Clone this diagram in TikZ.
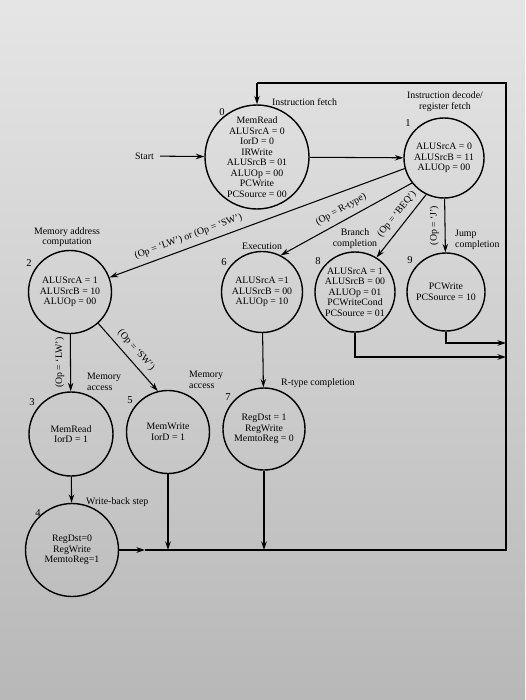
\documentclass[tikz,border=0pt]{standalone}
\usepackage{fontspec}
\setmainfont{Liberation Serif}
\usetikzlibrary{arrows.meta}
\begin{document}
\begin{tikzpicture}
        [>={Stealth[length=1.7mm,width=1.1mm]},
        every node/.style={font=\fontsize{5.6}{6}\selectfont},
        stateNode/.style={circle, draw, line width=0.8pt, align=center, inner sep=-2pt, minimum size=1.62cm},
        stepText/.style={align=center},
        numText/.style={font=\fontsize{6}{7}\selectfont},
        link/.style={semithick}]
                \shade[top color=black!10, bottom color=black!28] (0,0) rectangle (10.5,-14);
                \useasboundingbox (0,0) rectangle (10.5,-14);

                \node[stateNode, minimum size=2.08cm] (s0) at (5.14,-3.14) {MemRead\\ALUSrcA = 0\\IorD = 0\\IRWrite\\ALUSrcB = 01\\ALUOp = 00\\PCWrite\\PCSource = 00};
                \node[stateNode, minimum size=1.6cm] (s1) at (8.88,-3.16) {ALUSrcA = 0\\ALUSrcB = 11\\ALUOp = 00};
                \node[stateNode, minimum size=1.66cm] (s2) at (1.4,-5.84) {ALUSrcA = 1\\ALUSrcB = 10\\ALUOp = 00};
                \node[stateNode] (s6) at (5.24,-5.84) {ALUSrcA =1\\ALUSrcB = 00\\ALUOp = 10};
                \node[stateNode, minimum size=1.6cm] (s8) at (7.1,-5.84) {ALUSrcA = 1\\ALUSrcB = 00\\ALUOp = 01\\PCWriteCond\\PCSource = 01};
                \node[stateNode, minimum size=1.56cm] (s9) at (8.92,-5.84) {PCWrite\\PCSource = 10};
                \node[stateNode, minimum size=1.68cm] (s3) at (1.42,-8.68) {MemRead\\IorD = 1};
                \node[stateNode, minimum size=1.66cm] (s5) at (3.36,-8.64) {MemWrite\\IorD = 1};
                \node[stateNode, minimum size=1.64cm] (s7) at (5.28,-8.58) {RegDst = 1\\RegWrite\\MemtoReg = 0};
                \node[stateNode, minimum size=1.86cm] (s4) at (1.44,-11.0) {RegDst=0\\RegWrite\\MemtoReg=1};

                % state numbers
                \node[numText] (n0) at (4.44,-2.24) {0};
                \node[numText] (n1) at (8.16,-2.46) {1};
                \node[numText] (n2) at (0.58,-5.26) {2};
                \node[numText] (n6) at (4.48,-5.24) {6};
                \node[numText] (n8) at (6.36,-5.22) {8};
                \node[numText] (n9) at (8.2,-5.2) {9};
                \node[numText] (n3) at (0.64,-8.04) {3};
                \node[numText] (n5) at (2.6,-8.0) {5};
                \node[numText] (n7) at (4.56,-7.94) {7};
                \node[numText] (n4) at (0.76,-10.26) {4};

                % step names
                \node[stepText, anchor=west] (fetch) at (5.32,-2.04) {Instruction fetch};
                \node[stepText] (decode) at (8.9,-2.03) {Instruction decode/\\register fetch};
                \node[stepText] (addr) at (1.34,-4.74) {Memory address\\computation};
                \node[stepText] (exec) at (5.24,-4.92) {Execution};
                \node[stepText] (branch) at (7.1,-4.77) {Branch\\completion};
                \node[stepText, anchor=west, align=left] (jump) at (8.98,-4.8) {Jump\\completion};
                \node[stepText, anchor=west, align=left] (memA) at (1.62,-7.64) {Memory\\access};
                \node[stepText, anchor=west, align=left] (memB) at (3.66,-7.6) {Memory\\access};
                \node[stepText, anchor=west] (rdone) at (5.5,-7.66) {R-type completion};
                \node[stepText, anchor=west] (wback) at (1.6,-10.04) {Write-back step};
                \node[anchor=east] (start) at (3.2,-3.12) {Start};

                \coordinate (j4) at (2.9,-11.0);
                \coordinate (j5) at (s5 |- j4);
                \coordinate (j7) at (s7 |- j4);
                \coordinate (br) at (10.12,-11.0);
                \coordinate (tr) at (10.12,-1.66);
                \coordinate (tl) at (s0 |- tr);
                \coordinate (m9) at (10.12,-6.86);
                \coordinate (m8) at (10.12,-7.14);

                \draw[link, ->] (start) -- (s0);
                \draw[link, ->] (s0) -- (s1);
                \draw[link, ->] (s1.195) -- (s2) node[pos=0.72, above, sloped] {(Op = `LW') or (Op = `SW')};
                \draw[link, ->] (s1.218) -- (s6.63) node[midway, above, sloped] {(Op = R-type)};
                \draw[link, ->] (s1.244) -- (s8.58) node[pos=0.42, anchor=south, rotate=51] {(Op = `BEQ')};
                \draw[link, ->] (s1) -- (s9) node[midway, anchor=south, rotate=90] {(Op = `J')};
                \draw[link, ->] (s2) -- (s3) node[midway, anchor=south, rotate=90] {(Op = `LW')};
                \draw[link, ->] (s2.-48) -- (s5.104) node[midway, above, sloped] {(Op = `SW')};
                \draw[link, ->] (s6) -- (s7);
                \draw[link, ->] (s3) -- (s4);

                % back to instruction fetch
                \draw[link, ->] (s4) -- (j4);
                \draw[link, ->] (s5) -- (j5);
                \draw[link, ->] (s7) -- (j7);
                \draw[link, ->] (s8) |- (m8);
                \draw[link, ->] (s9) |- (m9);
                \draw[link] (j4) -- (br) -- (tr) -- (tl);
                \draw[link, ->] (tl) -- (s0);
\end{tikzpicture}
\end{document}
